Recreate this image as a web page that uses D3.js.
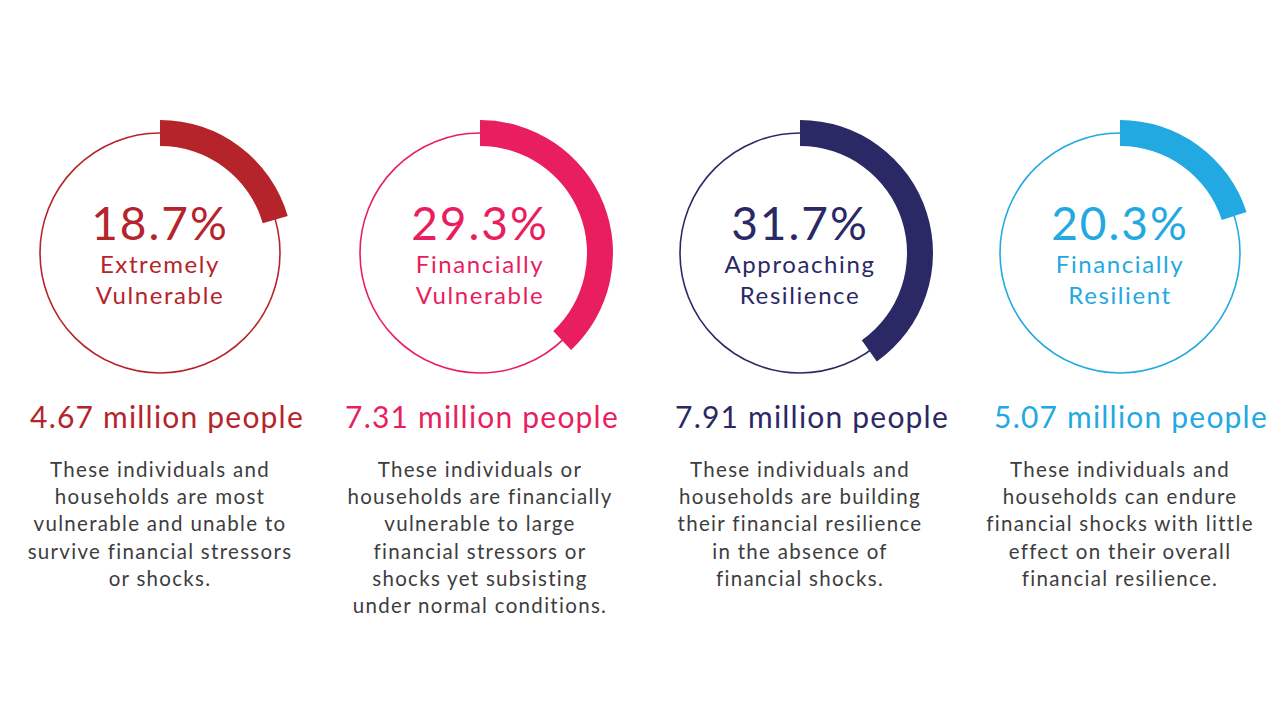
<!DOCTYPE html>
<html>
<head>
<meta charset="utf-8">
<script src="https://cdn.jsdelivr.net/npm/d3@7"></script>
<style>
  html, body { margin: 0; padding: 0; background: #ffffff; }
  svg { display: block; }
  text { font-family: Lato, "Open Sans", sans-serif; }
</style>
</head>
<body>
<svg id="chart" width="1280" height="720"></svg>
<script>
// ---- data ----
const categories = ["Extremely Vulnerable", "Financially Vulnerable", "Approaching Resilience", "Financially Resilient"];
const labelLines = [["Extremely", "Vulnerable"], ["Financially", "Vulnerable"], ["Approaching", "Resilience"], ["Financially", "Resilient"]];
const percentages = [18.7, 29.3, 31.7, 20.3];
// share of the ring that the drawn arc covers
const arcShare = [0.205, 0.38, 0.402, 0.20];
const millions = [4.67, 7.31, 7.91, 5.07];
const descriptions = [
  ["These individuals and", "households are most", "vulnerable and unable to", "survive financial stressors", "or shocks."],
  ["These individuals or", "households are financially", "vulnerable to large", "financial stressors or", "shocks yet subsisting", "under normal conditions."],
  ["These individuals and", "households are building", "their financial resilience", "in the absence of", "financial shocks."],
  ["These individuals and", "households can endure", "financial shocks with little", "effect on their overall", "financial resilience."]
];
const colors = ["#b5242b", "#e91e5f", "#2b2866", "#23a9e1"];

// ---- layout ----
const W = 1280, H = 720;
const cy = 253;
const ringR = 120, arcInner = 107, arcOuter = 133;
const millionNudge = [7, 2, 12, 11];

const svg = d3.select("#chart");
const x = d3.scaleBand().domain(categories).range([0, W]).padding(0);
const angle = d3.scaleLinear().domain([0, 1]).range([0, 2 * Math.PI]);
const arc = d3.arc().innerRadius(arcInner).outerRadius(arcOuter).startAngle(0);

const g = svg.selectAll("g.col")
  .data(categories.map((c, i) => ({ c, i })))
  .join("g")
  .attr("class", "col")
  .attr("transform", d => `translate(${x(d.c) + x.bandwidth() / 2},0)`);

g.append("circle")
  .attr("cx", 0).attr("cy", cy).attr("r", ringR)
  .attr("fill", "none")
  .attr("stroke", d => colors[d.i])
  .attr("stroke-width", 1.6);

g.append("path")
  .attr("transform", `translate(0,${cy})`)
  .attr("d", d => arc({ endAngle: angle(arcShare[d.i]) }))
  .attr("fill", d => colors[d.i]);

g.append("text")
  .attr("x", 0).attr("y", 240)
  .attr("text-anchor", "middle")
  .attr("font-size", 46)
  .attr("letter-spacing", 2)
  .attr("fill", d => colors[d.i])
  .text(d => d3.format(".1f")(percentages[d.i]) + "%");

g.each(function(d) {
  const sel = d3.select(this);
  labelLines[d.i].forEach((ln, k) => {
    sel.append("text")
      .attr("x", 0).attr("y", 273 + k * 31)
      .attr("text-anchor", "middle")
      .attr("font-size", 24)
      .attr("letter-spacing", 1.6)
      .attr("fill", colors[d.i])
      .text(ln);
  });
  sel.append("text")
    .attr("x", millionNudge[d.i]).attr("y", 428)
    .attr("text-anchor", "middle")
    .attr("font-size", 30)
    .attr("letter-spacing", 1.2)
    .attr("fill", colors[d.i])
    .text(d3.format(".2f")(millions[d.i]) + " million people");
  descriptions[d.i].forEach((ln, k) => {
    sel.append("text")
      .attr("x", 0).attr("y", 477 + k * 27.2)
      .attr("text-anchor", "middle")
      .attr("font-size", 20.5)
      .attr("letter-spacing", 1.3)
      .attr("fill", "#3d3d3d")
      .text(ln);
  });
});
</script>
</body>
</html>
